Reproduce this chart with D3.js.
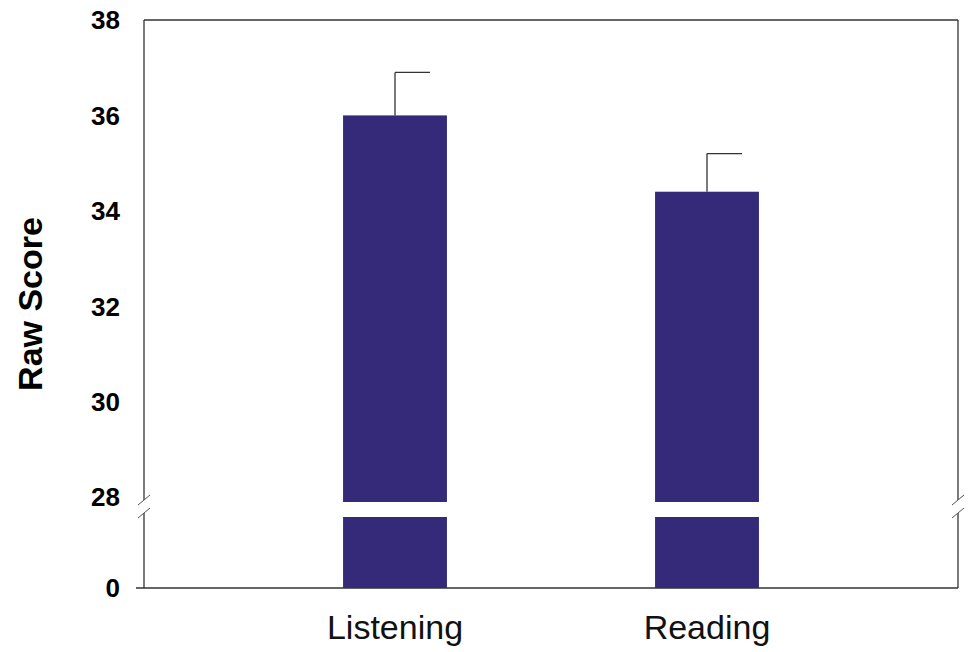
<!DOCTYPE html><html><head><meta charset="utf-8"><script src="https://cdn.jsdelivr.net/npm/d3@7"></script>
<style>body{margin:0;background:#fff}</style></head><body><svg id="c" width="974" height="652"></svg><script>
const categories=["Listening","Reading"];
const means=[36.0,34.4];
const errors=[0.9,0.8];
const upperTicks=[28,30,32,34,36,38];
const lowerTicks=[0];
const svg=d3.select("#c");
const L=144,R=958,T=20,B=588,brk=497;
const x=d3.scaleBand().domain(categories).range([L,R]).paddingInner(0.667).paddingOuter(0.638);
const yU=d3.scaleLinear().domain([28,38]).range([brk,T]);
const yL=d3.scaleLinear().domain([0,28]).range([B,brk+20]);
const col="#352a7a";
const g=svg.append("g");
categories.forEach((c,i)=>{
  g.append("rect").attr("x",x(c)).attr("width",x.bandwidth()).attr("y",yL(28)).attr("height",yL(0)-yL(28)).attr("fill",col);
  g.append("rect").attr("x",x(c)).attr("width",x.bandwidth()).attr("y",yU(means[i])).attr("height",yU(28)+5-yU(means[i])).attr("fill",col);
  const cx=x(c)+x.bandwidth()/2;
  g.append("line").attr("x1",cx).attr("x2",cx).attr("y1",yU(means[i])).attr("y2",yU(means[i]+errors[i])).attr("stroke","#333").attr("stroke-width",1.3);
  g.append("line").attr("x1",cx).attr("x2",cx+35).attr("y1",yU(means[i]+errors[i])).attr("y2",yU(means[i]+errors[i])).attr("stroke","#333").attr("stroke-width",1.3);
});
const ax="#333";
[[L,T,L,brk+3],[L,brk+16,L,B],[R,T,R,brk+3],[R,brk+16,R,B],[L,T,R,T],[L-8,B,R,B]].forEach(d=>
  svg.append("line").attr("x1",d[0]).attr("y1",d[1]).attr("x2",d[2]).attr("y2",d[3]).attr("stroke",ax).attr("stroke-width",1.3));
[L,R].forEach(px=>{[brk+3,brk+16].forEach(py=>svg.append("line").attr("x1",px-6).attr("y1",py+5).attr("x2",px+6).attr("y2",py-5).attr("stroke","#555").attr("stroke-width",1));});
const f="Arial, 'Liberation Sans', sans-serif";
upperTicks.forEach(t=>svg.append("text").attr("x",120).attr("y",yU(t)).attr("dy","0.36em").attr("text-anchor","end").attr("font-family",f).attr("font-weight","bold").attr("font-size",26).text(t));
lowerTicks.forEach(t=>svg.append("text").attr("x",120).attr("y",yL(t)).attr("dy","0.36em").attr("text-anchor","end").attr("font-family",f).attr("font-weight","bold").attr("font-size",26).text(t));
categories.forEach(c=>svg.append("text").attr("x",x(c)+x.bandwidth()/2).attr("y",639).attr("text-anchor","middle").attr("font-family",f).attr("font-size",34).attr("fill","#111").text(c));
svg.append("text").attr("transform","translate(42,304) rotate(-90)").attr("text-anchor","middle").attr("font-family",f).attr("font-weight","bold").attr("font-size",34).text("Raw Score");
</script></body></html>
